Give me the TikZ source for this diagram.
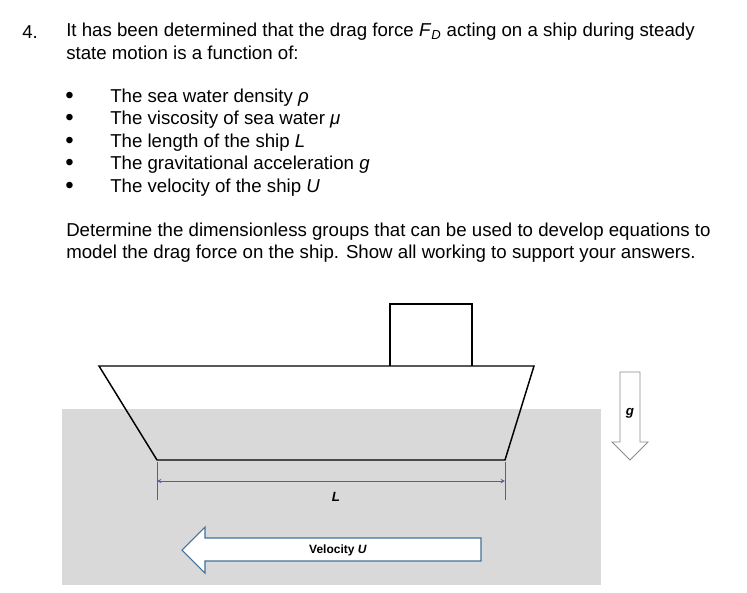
\documentclass[tikz,border=0pt]{standalone}
\usepackage{fontspec}
\setmainfont{Liberation Sans}
\definecolor{steel}{HTML}{41719C}
\begin{document}
\begin{tikzpicture}[x=0.75pt,y=-0.75pt,
  txt/.style={anchor=west,inner sep=0pt,font=\fontsize{14}{16}\selectfont},
  small/.style={inner sep=0pt,font=\fontsize{9}{10}\selectfont\bfseries},
  ship/.style={draw=black,line width=1.1pt,line join=miter},
  dim/.style={draw=gray!70!blue,line width=0.5pt},
  outl/.style={draw=black!45,line width=0.6pt,fill=white}]
\path[use as bounding box] (0,0) rectangle (747,593);
% text
\node[txt] (num) at (22,32) {4.};
\node[txt] (l1) at (66,32) {It has been determined that the drag force \textit{F}\textsubscript{\textit{D}} acting on a ship during steady};
\node[txt] (l2) at (66,53) {state motion is a function of:};
\foreach \y/\t [count=\i] in {98/{The sea water density \textit{ρ}},120/{The viscosity of sea water \textit{μ}},143/{The length of the ship \textit{L}},165/{The gravitational acceleration \textit{g}},188/{The velocity of the ship \textit{U}}}{
  \node[txt,font=\fontsize{18}{16}\selectfont] (b\i) at (65,\y) {•};
  \node[txt] (it\i) at (110,\y) {\t};
}
\node[txt] (p1) at (66,232) {Determine the dimensionless groups that can be used to develop equations to};
\node[txt] (p2) at (66,254) {model the drag force on the ship. Show all working to support your answers.};
% sea
\fill[black!15] (62,409) rectangle (601,585);
% ship
\draw[ship] (99,366) -- (534,366) -- (505,460) -- (157,460) -- cycle;
\draw[ship] (390,366) -- (390,304) -- (472,304) -- (472,366);
% dimension
\coordinate (dl) at (157,481); \coordinate (dr) at (505,481);
\draw[dim] (157,462) -- (157,500);
\draw[dim] (505,462) -- (505,500);
\draw[dim,<->,>=stealth] (dl) -- (dr);
\node[small,font=\fontsize{10}{10}\selectfont\bfseries\itshape] (L) at (336,497) {L};
% velocity arrow
\draw[draw=steel,line width=0.8pt,fill=white] (481,538) -- (205,538) -- (205,527) -- (182,550) -- (205,573) -- (205,561) -- (481,561) -- cycle;
\node[small] (vel) at (338,550) {Velocity \textit{U}};
% g arrow
\draw[outl] (620,372) -- (640,372) -- (640,442) -- (648,442) -- (630,460) -- (612,442) -- (620,442) -- cycle;
\node[small,font=\fontsize{10}{10}\selectfont\bfseries\itshape] (g) at (630,413) {g};
\end{tikzpicture}
\end{document}
